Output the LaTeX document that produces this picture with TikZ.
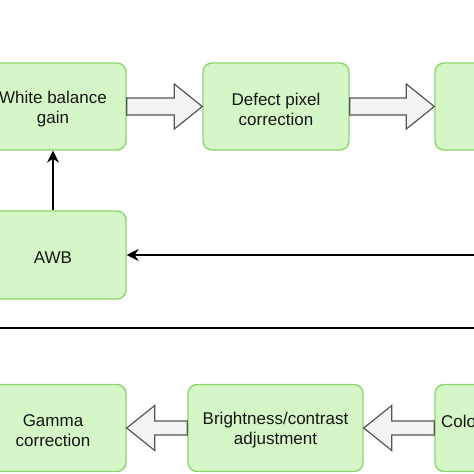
\documentclass[tikz,border=0pt]{standalone}
\usepackage{fontspec}
\setmainfont{Liberation Sans}
\usetikzlibrary{arrows.meta,calc}
\definecolor{boxfill}{HTML}{D5F7C8}
\definecolor{boxdraw}{HTML}{8CD56C}
\definecolor{arrfill}{HTML}{F4F4F4}
\definecolor{arrdraw}{HTML}{555555}
\definecolor{txt}{HTML}{151515}
\begin{document}
\begin{tikzpicture}[x=1pt,y=-1pt,
  blk/.style={draw=boxdraw,fill=boxfill,line width=1.4pt,rounded corners=9pt,
    minimum height=87pt,minimum width=146pt,align=center,inner sep=0pt,
    font=\fontsize{17}{20}\selectfont,text=txt},
  txtdown/.style={yshift=-2.5pt},
  lbl/.style={font=\fontsize{17}{20}\selectfont,text=txt,inner sep=0pt},
  harrow/.style={draw=arrdraw,fill=arrfill,line width=1.2pt,line join=miter},
  conn/.style={line width=1.4pt,draw=black,-{Stealth[length=12pt,width=12pt,inset=4pt]}},
  sepline/.style={line width=1.6pt,draw=black}]
\useasboundingbox (0,0) rectangle (474,474);
\clip (0,0) rectangle (474,474);
% top row
\node[blk] (wb) at (53,106.5) {};
\node[blk] (dp) at (276,106.5) {};
\node[blk] (n3) at (508,106.5) {};
% AWB
\node[blk,minimum height=88pt] (awb) at (53,255) {};
% bottom row
\node[blk] (gc) at (53,428) {};
\node[blk,minimum width=175pt] (bc) at (275.5,428) {};
\node[blk] (cc) at (508,428) {};
% texts
\node[lbl,align=center,txtdown] (wbt) at (wb.center) {White balance\\gain};
\node[lbl,align=center,txtdown] (dpt) at (dp.center) {Defect pixel\\correction};
\node[lbl,txtdown] (awbt) at (awb.center) {AWB};
\node[lbl,align=center,txtdown] (gct) at (gc.center) {Gamma\\correction};
\node[lbl,align=center,txtdown] (bct) at (bc.center) {Brightness/contrast\\adjustment};
\node[lbl,anchor=base west] (cctext) at (441,427) {Color};
% hollow arrows top row
\draw[harrow] let \p1=(wb.east), \p2=(dp.west) in
  (\x1,\y1-8.5pt) -- (\x2-28pt,\y1-8.5pt) -- (\x2-28pt,\y1-22.5pt) -- (\x2,\y1)
  -- (\x2-28pt,\y1+22.5pt) -- (\x2-28pt,\y1+8.5pt) -- (\x1,\y1+8.5pt) -- cycle;
\draw[harrow] let \p1=(dp.east), \p2=(n3.west) in
  (\x1,\y1-8.5pt) -- (\x2-28pt,\y1-8.5pt) -- (\x2-28pt,\y1-22.5pt) -- (\x2,\y1)
  -- (\x2-28pt,\y1+22.5pt) -- (\x2-28pt,\y1+8.5pt) -- (\x1,\y1+8.5pt) -- cycle;
% hollow arrows bottom row
\draw[harrow] let \p1=(bc.west), \p2=(gc.east) in
  (\x1,\y1-7pt) -- (\x2+28pt,\y1-7pt) -- (\x2+28pt,\y1-22.5pt) -- (\x2,\y1)
  -- (\x2+28pt,\y1+22.5pt) -- (\x2+28pt,\y1+7pt) -- (\x1,\y1+7pt) -- cycle;
\draw[harrow] let \p1=(cc.west), \p2=(bc.east) in
  (\x1,\y1-7pt) -- (\x2+28pt,\y1-7pt) -- (\x2+28pt,\y1-22.5pt) -- (\x2,\y1)
  -- (\x2+28pt,\y1+22.5pt) -- (\x2+28pt,\y1+7pt) -- (\x1,\y1+7pt) -- cycle;
% connectors
\draw[conn] (awb.north) -- (wb.south);
\coordinate (rin) at (480,255);
\draw[conn] (rin) -- (awb.east);
% separator
\coordinate (sepL) at (-5,328);
\coordinate (sepR) at (480,328);
\draw[sepline] (sepL) -- (sepR);
\end{tikzpicture}
\end{document}
